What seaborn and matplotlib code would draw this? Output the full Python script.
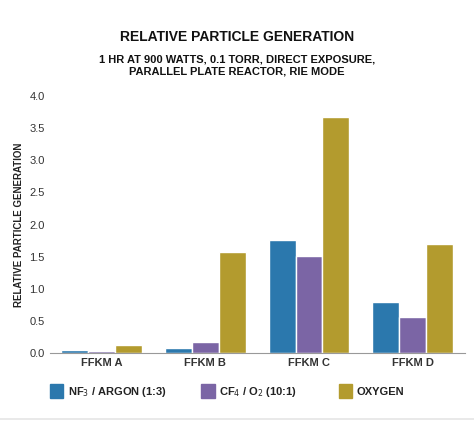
import matplotlib
matplotlib.use("Agg")
import matplotlib.pyplot as plt
import seaborn as sns
import pandas as pd

categories = ["FFKM A", "FFKM B", "FFKM C", "FFKM D"]
series = ["NF$_3$ / ARGON (1:3)", "CF$_4$ / O$_2$ (10:1)", "OXYGEN"]
nf3 = [0.05, 0.08, 1.76, 0.80]
cf4 = [0.03, 0.17, 1.51, 0.56]
oxy = [0.12, 1.58, 3.67, 1.69]
colors = ["#2b78ad", "#7b65a5", "#b39b2e"]

rows = []
for s, vals in zip(series, [nf3, cf4, oxy]):
    for c, v in zip(categories, vals):
        rows.append({"cat": c, "series": s, "val": v})
df = pd.DataFrame(rows)

sns.set_style("white")
plt.rcParams['font.family'] = ['Liberation Sans', 'DejaVu Sans']
fig = plt.figure(figsize=(4.74, 4.36), dpi=100)
ax = fig.add_axes([0.105, 0.19, 0.875, 0.59])
sns.barplot(data=df, x="cat", y="val", hue="series", palette=colors,
            ax=ax, width=0.78, saturation=1, legend=False)
ax.set_ylim(0, 4.0)
ax.set_yticks([0, 0.5, 1, 1.5, 2, 2.5, 3, 3.5, 4])
ax.set_yticklabels([f"{t:.1f}" for t in ax.get_yticks()], fontsize=8, color="#333")
ax.set_xticks(range(4))
ax.set_xticklabels(categories, fontsize=8, fontweight="bold", color="#333")
ax.set_xlabel("")
ax.set_ylabel("RELATIVE PARTICLE GENERATION", fontsize=7, fontweight="bold", color="#222")
for sp in ["top", "right", "left"]:
    ax.spines[sp].set_visible(False)
ax.spines["bottom"].set_color("#999")
ax.tick_params(length=0)

fig.text(0.5, 0.905, "RELATIVE PARTICLE GENERATION", ha="center", fontsize=10,
         fontweight="bold", color="#111")
fig.text(0.5, 0.83, "1 HR AT 900 WATTS, 0.1 TORR, DIRECT EXPOSURE,\nPARALLEL PLATE REACTOR, RIE MODE",
         ha="center", fontsize=8, fontweight="bold", color="#111", linespacing=1.2)

lx = [0.105, 0.425, 0.715]
for x, s, c in zip(lx, series, colors):
    fig.patches.append(plt.Rectangle((x, 0.0865), 0.028, 0.032, color=c, transform=fig.transFigure))
    fig.text(x + 0.038, 0.102, s, fontsize=8, fontweight="bold", va="center", color="#222")
fig.add_artist(plt.Line2D([0.0, 1.0], [0.04, 0.04], color="#e5e5e5", lw=1.2))
fig.savefig("out.png", dpi=100)
